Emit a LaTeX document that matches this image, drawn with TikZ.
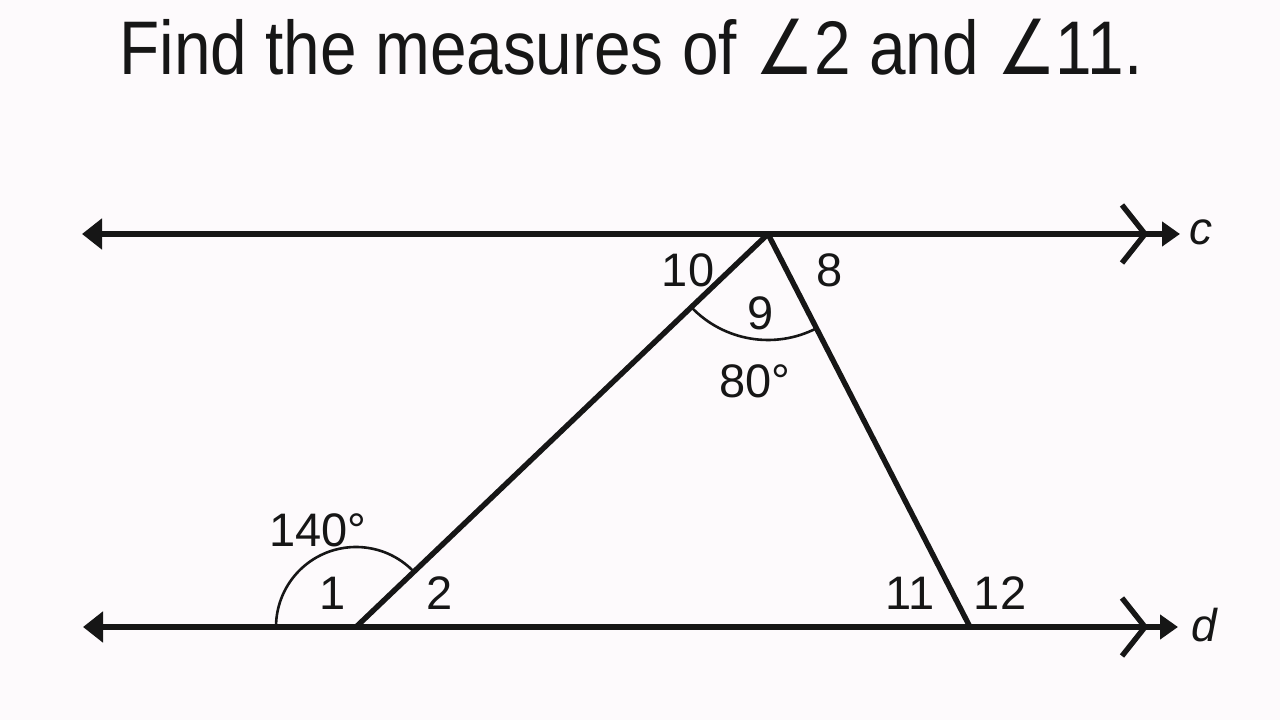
\documentclass[tikz,border=0pt]{standalone}
\usepackage{fontspec}
\setmainfont{Liberation Sans}
\newfontfamily\dejavu{DejaVu Sans}
\usetikzlibrary{angles,arrows.meta,calc}
\definecolor{bgcol}{RGB}{253,250,252}
\definecolor{ink}{RGB}{22,22,22}
\begin{document}
\begin{tikzpicture}[x=1pt,y=1pt,
  mainline/.style={line width=5.4pt, draw=ink},
  anglearc/.style={draw=ink, line width=2.6pt, angle radius=#1},
  lab/.style={font=\fontsize{47}{50}\selectfont, inner sep=0pt, anchor=base, text=ink},
  linelab/.style={font=\fontsize{46}{50}\selectfont\itshape, inner sep=0pt, anchor=base, text=ink}
]
\fill[bgcol] (0,0) rectangle (1280,720);
\useasboundingbox (0,0) rectangle (1280,720);

% title
\node[inner sep=0pt, anchor=base, text=ink] (title) at (631,645)
  {\scalebox{0.865}[1]{\fontsize{76}{80}\selectfont Find the measures of {\dejavu ∠}2 and {\dejavu ∠}11.}};

% points
\coordinate (A) at (768,486);
\coordinate (B) at (356,93);
\coordinate (C) at (970,93);
\coordinate (cL) at (82,486);
\coordinate (cR) at (1180,486);
\coordinate (dL) at (83,93);
\coordinate (dR) at (1178,93);

% parallel lines
\draw[mainline, {Triangle[length=20pt,width=30pt]}-{Triangle[length=18pt,width=24pt]}] (cL) -- (cR);
\draw[mainline, {Triangle[length=20pt,width=30pt]}-{Triangle[length=18pt,width=24pt]}] (dL) -- (dR);
\draw[mainline, line join=miter] ($(cR)+(-58,29)$) -- ($(cR)+(-35,0)$) -- ($(cR)+(-58,-29)$);
\draw[mainline, line join=miter] ($(dR)+(-56,29)$) -- ($(dR)+(-33,0)$) -- ($(dR)+(-56,-29)$);

% transversals
\draw[mainline, line join=round] (B) -- (A) -- (C);

% angle arcs
\pic[anglearc=106pt] {angle=B--A--C};
\pic[anglearc=80pt] {angle=A--B--dL};

% labels
\node[lab] (l140) at (318,173) {140°};
\node[lab] (l1) at (333,110) {1};
\node[lab] (l2) at (440,110) {2};
\node[lab] (l10) at (688,433) {10};
\node[lab] (l8) at (830,433) {8};
\node[lab] (l9) at (761,390) {9};
\node[lab] (l80) at (755,322) {80°};
\node[lab] (l11) at (910,110) {11};
\node[lab] (l12) at (1000,110) {12};
\node[linelab] (lc) at (1201,475) {c};
\node[linelab] (ld) at (1204,78) {d};
\end{tikzpicture}
\end{document}
